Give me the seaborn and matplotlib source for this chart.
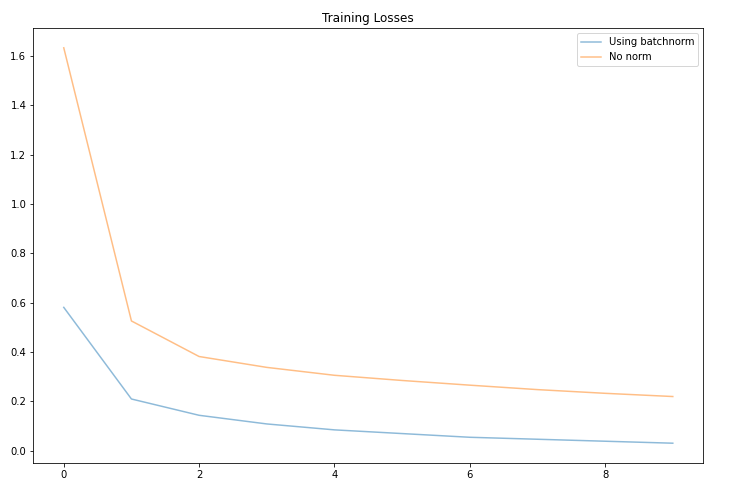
import pandas as pd
import seaborn as sns
import matplotlib
matplotlib.use("Agg")
import matplotlib.pyplot as plt

epochs = list(range(10))
batchnorm_loss = [0.581, 0.210, 0.144, 0.109, 0.085, 0.070, 0.055, 0.047, 0.039, 0.031]
no_norm_loss = [1.632, 0.526, 0.382, 0.338, 0.306, 0.285, 0.266, 0.248, 0.233, 0.220]

df = pd.DataFrame({
    'epoch': epochs * 2,
    'loss': batchnorm_loss + no_norm_loss,
    'model': ['Using batchnorm'] * 10 + ['No norm'] * 10,
})

# 72 dpi so text and line sizes come out like the original render
fig = plt.figure(figsize=(737 / 72, 492 / 72), dpi=72)
ax = fig.add_axes([0.0452, 0.059, 0.909, 0.884])
sns.lineplot(data=df, x='epoch', y='loss', hue='model', ax=ax,
             palette=['#1f77b4', '#ff7f0e'], alpha=0.5, linewidth=1.5)

ax.set_title("Training Losses")
ax.set_xlabel("")
ax.set_ylabel("")
ax.set_yticks([0.0, 0.2, 0.4, 0.6, 0.8, 1.0, 1.2, 1.4, 1.6])
ax.legend(loc='upper right')

fig.savefig("out.png", dpi=72)
